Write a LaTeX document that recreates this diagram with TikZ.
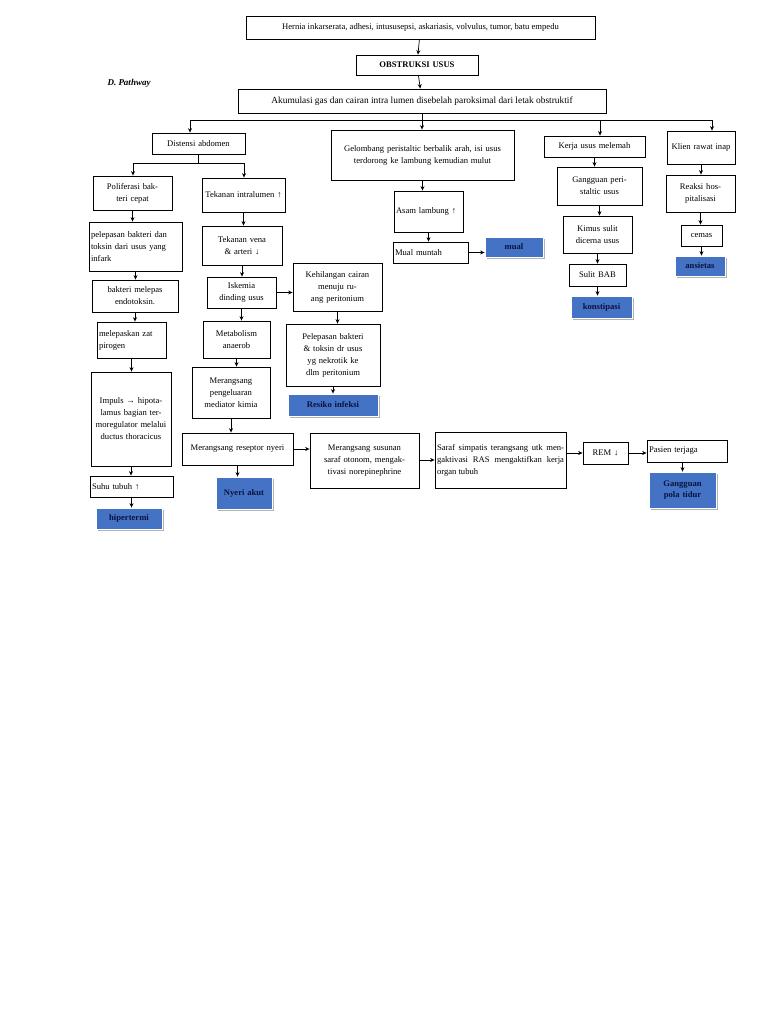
\documentclass[tikz,border=0pt]{standalone}
\usepackage{fontspec}
\setmainfont{Liberation Serif}
\usetikzlibrary{arrows.meta}
\definecolor{dxblue}{RGB}{68,114,196}
\definecolor{dxtext}{RGB}{10,20,60}
\tikzset{
  box/.style={draw=black, line width=0.8pt, fill=white, inner sep=1pt, font=\fontsize{8.6}{12}\selectfont},
  dx/.style={box, fill=dxblue, draw=white, line width=0.8pt,
     font=\fontsize{8.6}{11}\selectfont\bfseries, text=dxtext},
  shd/.style={fill=black!30, draw=none},
  arr/.style={-{Stealth[length=4.5pt,width=4pt]}, line width=0.7pt},
  ln/.style={line width=0.7pt}
}
\def\dxname{dx}
\newcommand\bx[8]{%
  \pgfmathsetlengthmacro\bw{#5-#3}\pgfmathsetlengthmacro\bh{#6-#4}%
  \pgfmathsetlengthmacro\tw{#5-#3-4}%
  \def\curst{#7}%
  \ifx\curst\dxname\fill[shd] (#3+2,#4+2) rectangle (#5+2,#6+2);\fi
  \node[#7, minimum width=\bw, minimum height=\bh, text width=\tw, #8] (#1) at ({(#3+#5)/2},{(#4+#6)/2}) {#2};}
\begin{document}
\begin{tikzpicture}[x=1pt,y=-1pt]
\useasboundingbox (0,0) rectangle (768,1024);
\fill[white] (0,0) rectangle (768,1024);
\node[box, minimum width=349, minimum height=23, inner sep=0pt] (h) at (420.5,27.5) {Hernia inkarserata, adhesi, intususepsi, askariasis, volvulus, tumor, batu empedu};
\bx{ob}{OBSTRUKSI USUS}{356}{55}{478}{75}{box}{align=center,font=\fontsize{8.6}{12}\selectfont\bfseries}
\node[font=\fontsize{9}{11}\selectfont\bfseries\itshape] (dp) at (129,83) {D. Pathway};
\node[box, minimum width=368, minimum height=24, inner sep=0pt, font=\fontsize{9.4}{12}\selectfont] (ak) at (422,101) {Akumulasi gas dan cairan intra lumen disebelah paroksimal dari letak obstruktif};
\bx{di}{Distensi abdomen}{152}{133}{245}{154}{box}{align=center}
\bx{ge}{Gelombang peristaltic berbalik arah, isi usus terdorong ke lambung kemudian mulut}{331}{130}{514}{180}{box}{align=center}
\bx{ke}{Kerja usus melemah}{544}{136}{645}{157}{box}{align=center}
\bx{kl}{Klien rawat inap}{667}{131}{735}{164}{box}{align=center}
\bx{po}{Poliferasi bakteri cepat}{93}{176}{172}{210}{box}{align=center}
\bx{pb}{pelepasan bakteri dan toksin dari usus yang infark}{89}{222}{182}{271}{box}{align=left}
\bx{bm}{bakteri melepas endotoksin.}{92}{280}{178}{312}{box}{align=center}
\bx{mz}{melepaskan zat pirogen}{97}{322}{166}{358}{box}{align=left}
\bx{im}{Impuls → hipotalamus bagian termoregulator melalui ductus thoracicus}{91}{372}{171}{466}{box}{align=center}
\bx{su}{Suhu tubuh ↑}{90}{476}{173}{497}{box}{align=left}
\bx{hi}{hipertermi}{96}{508}{162}{529}{dx}{align=center}
\bx{ti}{Tekanan intralumen ↑}{202}{178}{285}{212}{box}{align=center}
\bx{tv}{Tekanan vena \& arteri ↓}{202}{226}{282}{265}{box}{align=center}
\bx{is}{Iskemia dinding usus}{207}{277}{276}{308}{box}{align=center}
\bx{me}{Metabolism anaerob}{203}{321}{270}{358}{box}{align=center}
\bx{mp}{Merangsang pengeluaran mediator kimia}{192}{367}{270}{418}{box}{align=center}
\bx{mr}{Merangsang reseptor nyeri}{182}{433}{293}{465}{box}{align=center}
\bx{ny}{Nyeri akut}{216}{477}{272}{509}{dx}{align=center}
\bx{kc}{Kehilangan cairan menuju ruang peritonium}{293}{263}{382}{311}{box}{align=center}
\bx{pl}{Pelepasan bakteri \& toksin dr usus yg nekrotik ke dlm peritonium}{286}{324}{380}{386}{box}{align=center}
\bx{ri}{Resiko infeksi}{288}{394}{378}{416}{dx}{align=center}
\bx{as}{Asam lambung ↑}{394}{191}{463}{232}{box}{align=left}
\bx{mm}{Mual muntah}{393}{242}{468}{263}{box}{align=left}
\bx{mu}{mual}{485}{237}{543}{257}{dx}{align=center}
\bx{gp}{Gangguan peristaltic usus}{557}{167}{642}{205}{box}{align=center}
\bx{kd}{Kimus sulit dicerna usus}{563}{216}{632}{253}{box}{align=center}
\bx{sb}{Sulit BAB}{569}{264}{626}{286}{box}{align=center}
\bx{ko}{konstipasi}{571}{296}{632}{318}{dx}{align=center}
\bx{rh}{Reaksi hospitalisasi}{666}{175}{735}{212}{box}{align=center}
\bx{ce}{cemas}{681}{225}{722}{246}{box}{align=center}
\bx{an}{ansietas}{675}{256}{725}{276}{dx}{align=center}
\bx{ms}{Merangsang susunan saraf otonom, mengaktivasi norepinephrine}{310}{433}{419}{488}{box}{align=center}
\bx{ss}{Saraf simpatis terangsang utk mengaktivasi RAS mengaktifkan kerja organ tubuh}{435}{432}{566}{488}{box}{align=justify}
\bx{re}{REM ↓}{583}{442}{628}{464}{box}{align=center}
\bx{pt}{Pasien terjaga}{647}{440}{727}{462}{box}{align=left}
\bx{gt}{Gangguan pola tidur}{649}{472}{716}{508}{dx}{align=center}
% connectors
\draw[arr] (h) -- (ob);
\draw[arr] (ob) -- (ak);
\coordinate (b1) at (422,120);
\coordinate (bl) at (190,120);
\coordinate (br) at (712,120);
\coordinate (bk) at (600,120);
\draw[ln] (ak.south) -- (b1);
\draw[ln] (bl) -- (br);
\draw[arr] (bl) -- (bl |- di.north);
\draw[arr] (b1) -- (b1 |- ge.north);
\draw[arr] (bk) -- (bk |- ke.north);
\draw[arr] (br) -- (br |- kl.north);
\coordinate (dl) at (133,163);
\coordinate (dr) at (244,163);
\draw[ln] (di.south) -- (di.south |- dl);
\draw[ln] (dl) -- (dr);
\draw[arr] (dl) -- (dl |- po.north);
\draw[arr] (dr) -- (dr |- ti.north);
\draw[arr] (po.south) -- (po.south |- pb.north);
\draw[arr] (pb.south) -- (pb.south |- bm.north);
\draw[arr] (bm.south) -- (bm.south |- mz.north);
\draw[arr] (mz.south) -- (mz.south |- im.north);
\draw[arr] (im.south) -- (im.south |- su.north);
\draw[arr] (su.south) -- (su.south |- hi.north);
\draw[arr] (ti.south) -- (ti.south |- tv.north);
\draw[arr] (tv.south) -- (tv.south |- is.north);
\draw[arr] (is.south) -- (is.south |- me.north);
\draw[arr] (me.south) -- (me.south |- mp.north);
\draw[arr] (mp.south) -- (mp.south |- mr.north);
\draw[arr] (mr.south) -- (mr.south |- ny.north);
\draw[arr] (is.east) -- (is.east -| kc.west);
\draw[arr] (kc.south) -- (kc.south |- pl.north);
\draw[arr] (pl.south) -- (pl.south |- ri.north);
\draw[arr] (ge.south) -- (ge.south |- as.north);
\draw[arr] (as.south) -- (as.south |- mm.north);
\draw[arr] (mm.east) -- (mm.east -| mu.west);
\draw[arr] (ke.south) -- (ke.south |- gp.north);
\draw[arr] (gp.south) -- (gp.south |- kd.north);
\draw[arr] (kd.south) -- (kd.south |- sb.north);
\draw[arr] (sb.south) -- (sb.south |- ko.north);
\draw[arr] (kl.south) -- (kl.south |- rh.north);
\draw[arr] (rh.south) -- (rh.south |- ce.north);
\draw[arr] (ce.south) -- (ce.south |- an.north);
\draw[arr] (mr.east) -- (mr.east -| ms.west);
\draw[arr] (ms.east |- ss.west) -- (ss.west);
\draw[arr] (ss.east |- re.west) -- (re.west);
\draw[arr] (re.east) -- (re.east -| pt.west);
\draw[arr] (pt.south -| gt.north) -- (gt.north);
\end{tikzpicture}
\end{document}
